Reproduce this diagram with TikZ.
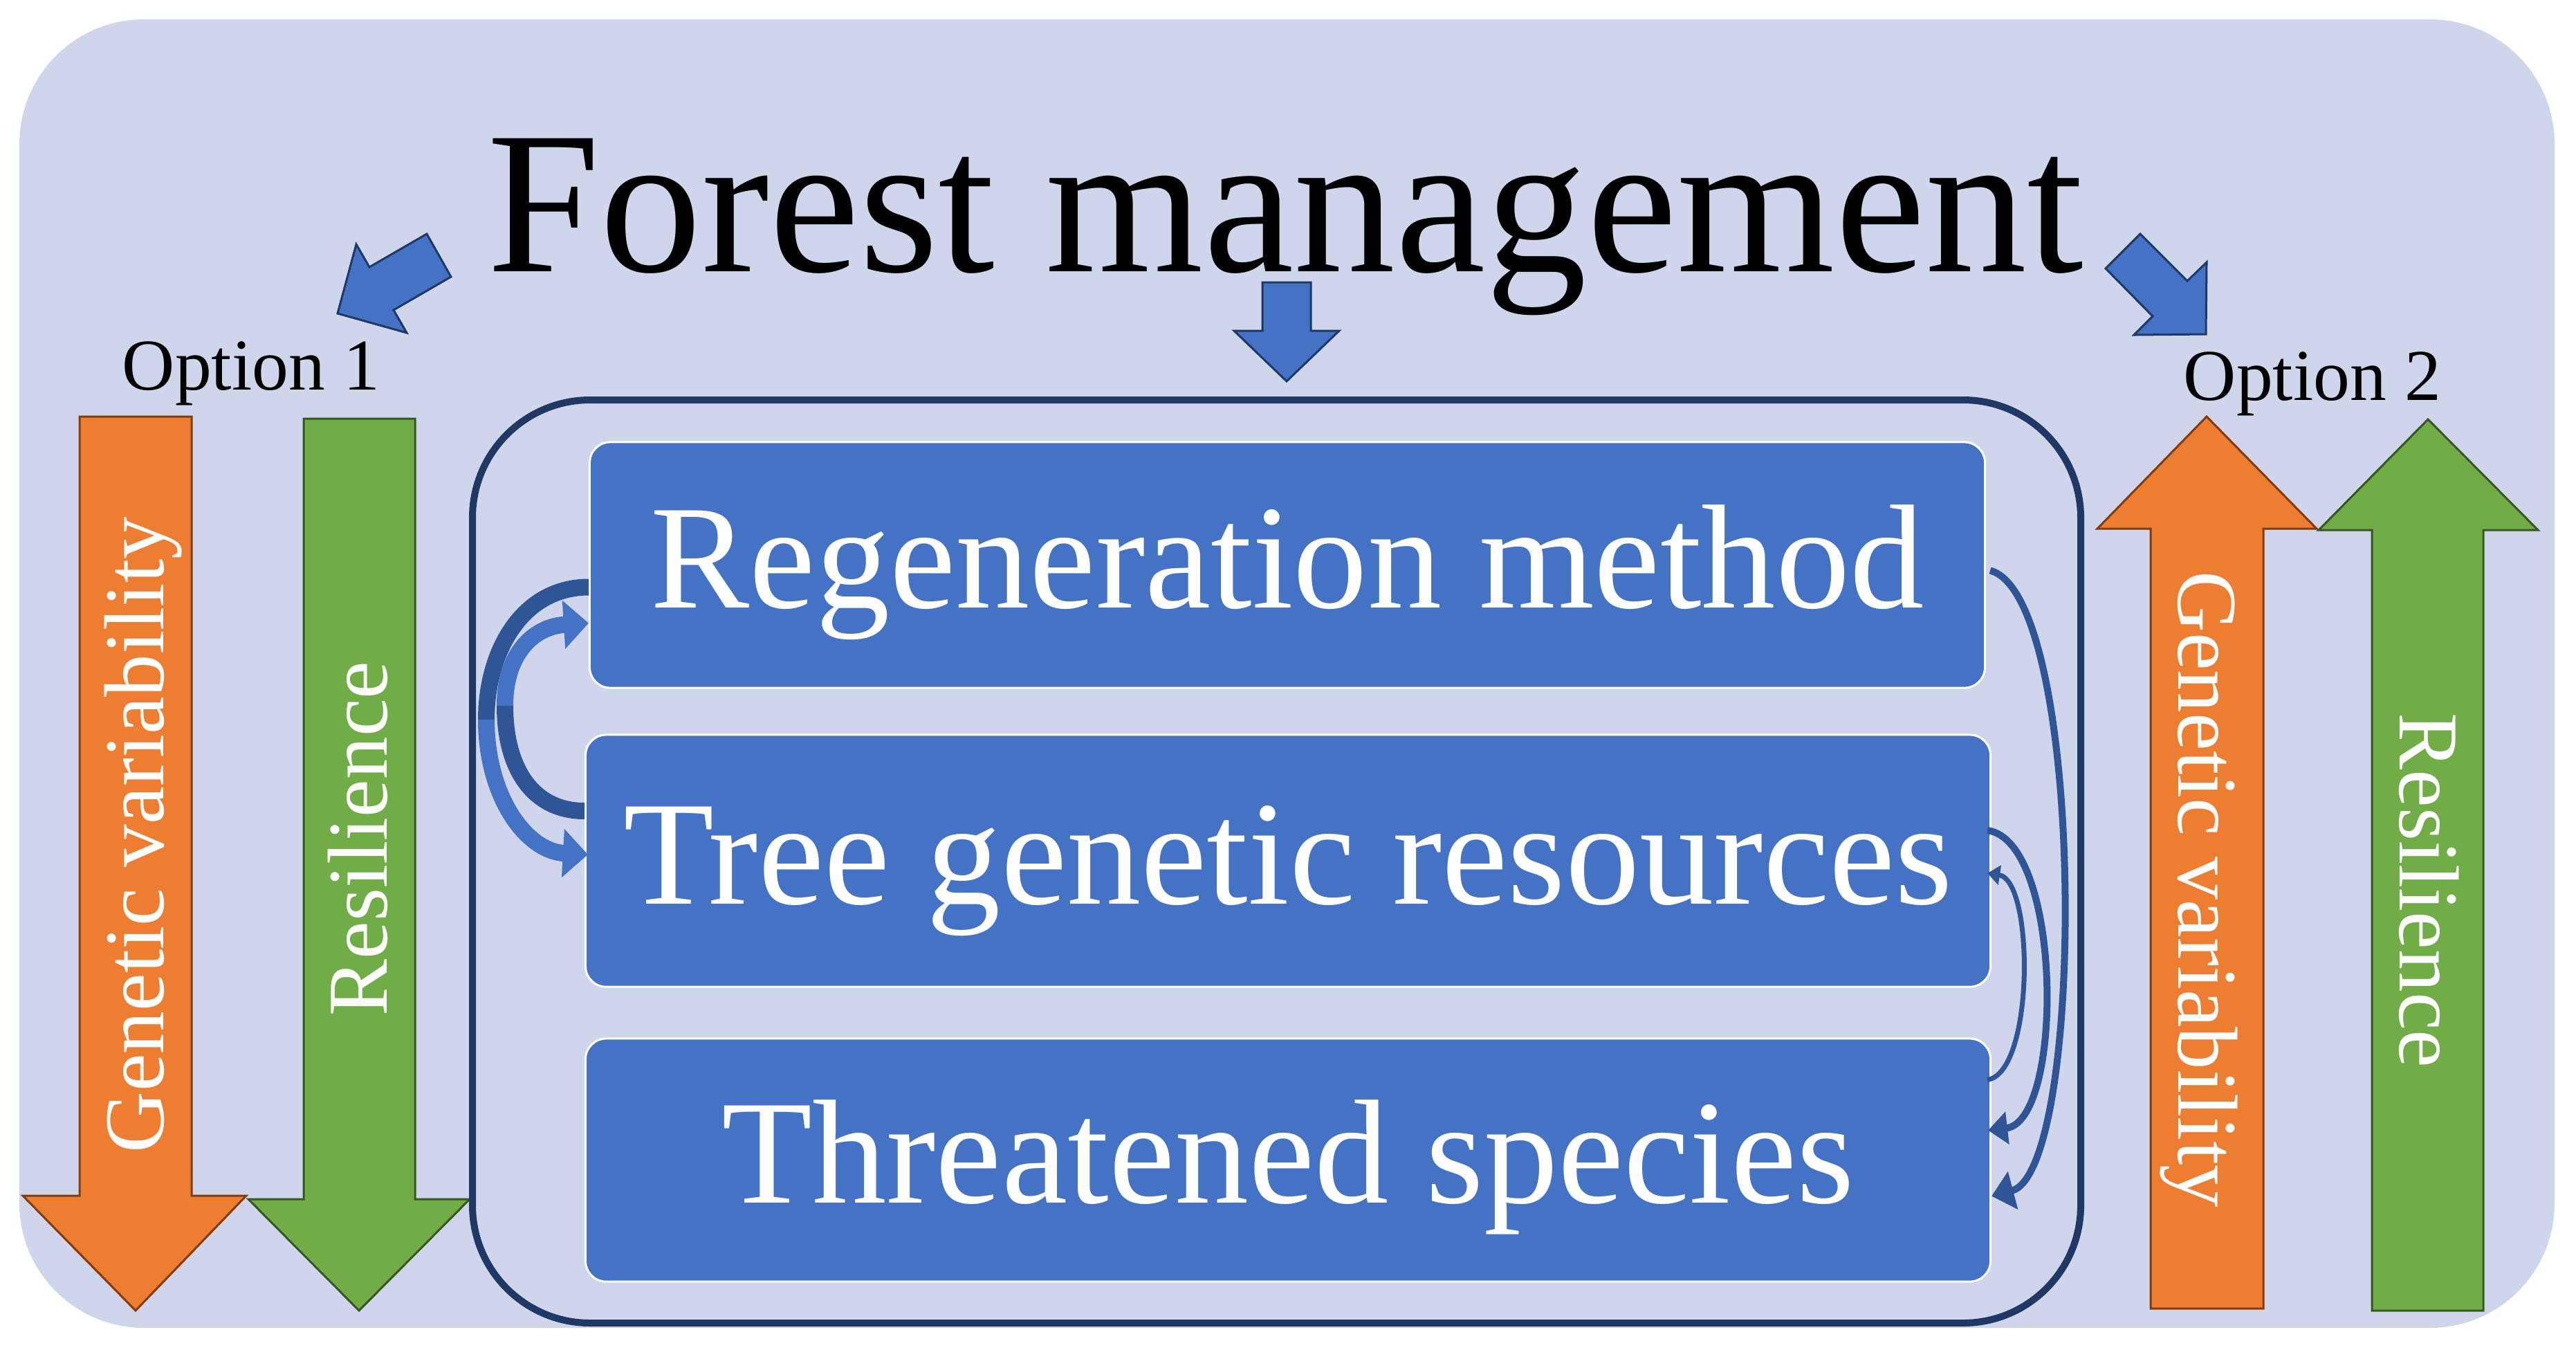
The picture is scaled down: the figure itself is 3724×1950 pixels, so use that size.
\documentclass[tikz,border=0pt]{standalone}
\usepackage{fontspec}
\setmainfont{Liberation Serif}
\usepackage{xcolor}
\usepackage{tikz}
\usetikzlibrary{shapes,arrows.meta,positioning,calc}

\definecolor{bgblue}{HTML}{CFD5EA}
\definecolor{boxblue}{HTML}{4472C4}
\definecolor{darkblue}{HTML}{2F5597}
\definecolor{navy}{HTML}{1F3864}
\definecolor{orangefill}{HTML}{ED7D31}
\definecolor{orangeline}{HTML}{843C0C}
\definecolor{greenfill}{HTML}{70AD47}
\definecolor{greenline}{HTML}{385723}

\tikzset{
    topicbox/.style={
        rectangle,
        rounded corners=0.3cm,
        fill=boxblue,
        draw=white,
        line width=0.03cm,
        text=white,
        inner sep=0pt,
        font=\fontsize{61}{65}\selectfont,
        text height=1.4cm,
        text depth=0.16cm
    },
    barlabel/.style={
        text=white,
        inner sep=0pt,
        font=\fontsize{35}{38}\selectfont,
        text height=0.815cm,
        text depth=0cm
    },
    optlabel/.style={
        inner sep=0pt,
        anchor=base,
        font=\fontsize{30}{33}\selectfont
    },
    blockarrow/.style={
        fill=boxblue,
        draw=navy,
        line width=0.03cm
    },
    orangearrow/.style={
        fill=orangefill,
        draw=orangeline,
        line width=0.03cm
    },
    greenarrow/.style={
        fill=greenfill,
        draw=greenline,
        line width=0.03cm
    },
    backband/.style={
        draw=darkblue,
        line width=0.24cm
    },
    frontband/.style={
        draw=boxblue,
        line width=0.24cm,
        -{Triangle[width=0.68cm,length=0.36cm]}
    },
    thinarc/.style={
        draw=darkblue,
        line width=0.1cm
    }
}

\begin{document}
\begin{tikzpicture}[x=0.01cm,y=-0.01cm]

                % page and background panel
                \fill[white] (0,0) rectangle (3724,1950);
                \useasboundingbox (0,0) rectangle (3724,1950);
                \fill[
                    bgblue,
                    rounded corners=1.8cm
                    ] (28,28) rectangle (3693,1919);

                % title
                \node[
                    anchor=base,
                    inner sep=0pt,
                    font=\fontsize{83.5}{90}\selectfont
                    ] (title) at (1858,392) {Forest management};

                % small block arrows
                \draw[blockarrow] (652,400) -- (617,338) -- (534,386) -- (515,353)
                    -- (488,453) -- (588,481) -- (569,448) -- cycle;
                \draw[blockarrow] (1825,408) -- (1895,408) -- (1895,478) -- (1936,478)
                    -- (1860,551) -- (1784,478) -- (1825,478) -- cycle;
                \draw[blockarrow] (3094,338) -- (3044,388) -- (3112,457) -- (3085,484)
                    -- (3189,483) -- (3190,379) -- (3162,406) -- cycle;

                % option labels
                \node[optlabel] (opt1) at (363,563) {Option 1};
                \node[optlabel] (opt2) at (3343,578) {Option 2};

                % option 1 arrows
                \draw[orangearrow] (115,602) -- (277,602) -- (277,1728) -- (356,1728)
                    -- (196,1894) -- (33,1728) -- (115,1728) -- cycle;
                \draw[greenarrow] (439,605) -- (600,605) -- (600,1733) -- (679,1733)
                    -- (519,1894) -- (359,1733) -- (439,1733) -- cycle;
                \node[barlabel, rotate=90] (gv1) at (196,1207) {Genetic variability};
                \node[barlabel, rotate=90] (res1) at (519,1212) {Resilience};

                % option 2 arrows
                \draw[orangearrow] (3109,1891) -- (3272,1891) -- (3272,764) -- (3349,764)
                    -- (3190,602) -- (3032,764) -- (3109,764) -- cycle;
                \draw[greenarrow] (3429,1894) -- (3590,1894) -- (3590,766) -- (3669,766)
                    -- (3510,606) -- (3352,766) -- (3429,766) -- cycle;
                \node[barlabel, rotate=-90] (gv2) at (3190,1285) {Genetic variability};
                \node[barlabel, rotate=-90] (res2) at (3510,1287) {Resilience};

                % container
                \draw[
                    navy,
                    line width=0.1cm,
                    rounded corners=1.7cm
                    ] (683,578) rectangle (3008,1912);

                % topic boxes
                \node[topicbox, minimum width=20.16cm, minimum height=3.55cm]
                    (regen) at (1861,816.5) {Regeneration method};
                \node[topicbox, minimum width=20.3cm, minimum height=3.64cm]
                    (tree) at (1862,1244) {Tree genetic resources};
                \node[topicbox, minimum width=20.3cm, minimum height=3.51cm]
                    (threat) at (1862,1676.5) {Threatened species};

                % curved arrows on the left
                \coordinate (bendout) at (703,1040);
                \coordinate (bendin) at (730,1020);

                \draw[backband] ($(tree.west)+(0,-72)$)
                    .. controls +(-75,0) and +(0,90) .. (bendin);
                \draw[frontband] (bendin)
                    .. controls +(0,-75) and +(-80,5) .. ($(regen.west)+(0,84)$);

                \draw[backband] ($(regen.west)+(0,32)$)
                    .. controls +(-95,0) and +(0,-100) .. (bendout);
                \draw[frontband] (bendout)
                    .. controls +(0,110) and +(-90,-5) .. ($(tree.west)+(5,-9)$);

                % curved arrows on the right
                \draw[
                    thinarc,
                    -{Triangle[width=0.55cm,length=0.32cm]}
                    ] ($(regen.east)+(6,8)$)
                    .. controls +(139,36) and +(137,-36) .. ($(threat.east)+(0,52)$);
                \draw[
                    thinarc,
                    -{Triangle[width=0.46cm,length=0.28cm]}
                    ] ($(tree.east)+(-6,-44)$)
                    .. controls +(109,15) and +(110,-13) .. ($(threat.east)+(-5,-43)$);
                \draw[
                    thinarc,
                    line width=0.07cm,
                    -{Triangle[width=0.28cm,length=0.18cm]}
                    ] ($(threat.east)+(-6,-116)$)
                    .. controls +(68,-10) and +(68,10) .. ($(tree.east)+(-6,18)$);

\end{tikzpicture}
\end{document}
